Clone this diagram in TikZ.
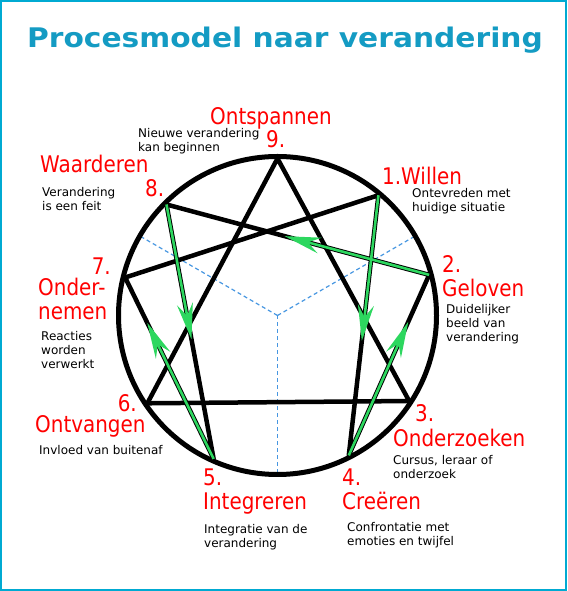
\documentclass[tikz,border=0pt]{standalone}
\usepackage{fontspec}
\setmainfont{DejaVu Sans}
\newfontfamily\redfont{DejaVu Sans}[FakeStretch=0.87]
\newfontfamily\titlefont{DejaVu Sans}[FakeStretch=1.1]
\usetikzlibrary{arrows.meta}
\definecolor{framecyan}{RGB}{0,170,210}
\definecolor{titleblue}{RGB}{20,155,195}
\definecolor{arrowgreen}{RGB}{45,215,95}
\definecolor{dashblue}{RGB}{70,150,225}
\tikzset{
  StepLabel/.style={anchor=base west,inner sep=0pt,text=red,align=left,
    font=\redfont\fontsize{22.9}{24.5}\selectfont},
  NoteLabel/.style={anchor=base west,inner sep=0pt,align=left,
    font=\fontsize{12}{14}\selectfont},
  StarLine/.style={line width=4.5pt,line join=round},
  GreenArrow/.style={draw=arrowgreen,line width=2.6pt,
    -{Stealth[length=36pt,width=16pt,inset=12pt,fill=arrowgreen]}},
  DashLine/.style={draw=dashblue,line width=1.2pt,dash pattern=on 4pt off 3pt}
}

\begin{document}
\begin{tikzpicture}[x=1pt,y=1pt]
  \useasboundingbox (0,0) rectangle (567,591);
  \draw[framecyan,line width=2pt] (1,1) rectangle (566,590);

  \node[anchor=base,inner sep=0pt,text=titleblue,
    font=\titlefont\bfseries\fontsize{27}{30}\selectfont] (title) at (285,543)
    {Procesmodel naar verandering};

  \begin{scope}[shift={(277.5,275.5)}]
    \coordinate (hub) at (0,0);
    \coordinate (p1) at (50:157);
    \coordinate (p2) at (15:157);
    \coordinate (p3) at (-33:157);
    \coordinate (p4) at (-63:157);
    \coordinate (p5) at (-114:157);
    \coordinate (p6) at (-146:157);
    \coordinate (p7) at (166:157);
    \coordinate (p8) at (135:157);
    \coordinate (p9) at (90:157);
    \coordinate (d1) at (30:159);
    \coordinate (d2) at (150:159);
    \coordinate (d3) at (270:159);

    \draw[DashLine] (hub) -- (d1);
    \draw[DashLine] (hub) -- (d2);
    \draw[DashLine] (hub) -- (d3);

    \draw[line width=5pt] (hub) circle (159);

    \draw[StarLine] (p9) -- (p3) -- (p6) -- cycle;
    \draw[StarLine] (p1) -- (p4) -- (p2) -- (p8) -- (p5) -- (p7) -- cycle;

    \path (p2) -- (p8) coordinate[pos=0.55] (e28);
    \path (p1) -- (p4) coordinate[pos=0.56] (e14);
    \path (p8) -- (p5) coordinate[pos=0.53] (e85);
    \path (p5) -- (p7) coordinate[pos=0.75] (e57);
    \path (p4) -- (p2) coordinate[pos=0.74] (e42);

    \draw[GreenArrow] (p2) -- (e28);
    \draw[GreenArrow] (p1) -- (e14);
    \draw[GreenArrow] (p8) -- (e85);
    \draw[GreenArrow] (p5) -- (e57);
    \draw[GreenArrow] (p4) -- (e42);
  \end{scope}

  \node[StepLabel] (n9) at (210,466) {Ontspannen};
  \node[StepLabel] (k9) at (266,443) {9.};
  \node[NoteLabel] (t9) at (138,439) {Nieuwe verandering\\kan beginnen};

  \node[StepLabel] (n8) at (40,418) {Waarderen};
  \node[StepLabel] (k8) at (145,394) {8.};
  \node[NoteLabel] (t8) at (42,380) {Verandering\\is een feit};

  \node[StepLabel] (n1) at (382,406) {1.Willen};
  \node[NoteLabel] (t1) at (412,379) {Ontevreden met\\huidige situatie};

  \node[StepLabel] (n2) at (442,294) {2.\\Geloven};
  \node[NoteLabel] (t2) at (446,249) {Duidelijker\\beeld van\\verandering};

  \node[StepLabel,anchor=base east] (k7) at (111,316) {7.};
  \node[StepLabel] (n7) at (38,271) {Onder-\\nemen};
  \node[NoteLabel] (t7) at (41,222) {Reacties\\worden\\verwerkt};

  \node[StepLabel,anchor=base east] (k6) at (137,179) {6.};
  \node[StepLabel] (n6) at (35,158) {Ontvangen};
  \node[NoteLabel] (t6) at (39,136) {Invloed van buitenaf};

  \node[StepLabel] (k3) at (415,169) {3.};
  \node[StepLabel] (n3) at (393,144) {Onderzoeken};
  \node[NoteLabel] (t3) at (393,112) {Cursus, leraar of\\onderzoek};

  \node[StepLabel] (n5) at (203,81) {5.\\Integreren};
  \node[NoteLabel] (t5) at (204,43) {Integratie van de\\verandering};

  \node[StepLabel] (n4) at (342,81) {4.\\Creëren};
  \node[NoteLabel] (t4) at (347,45) {Confrontatie met\\emoties en twijfel};
\end{tikzpicture}
\end{document}
